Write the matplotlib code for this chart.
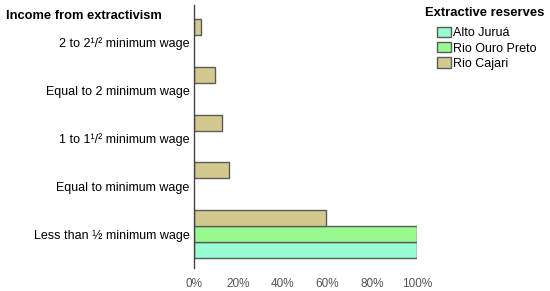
import matplotlib
matplotlib.use("Agg")
import matplotlib.pyplot as plt
from matplotlib.patches import Patch
import numpy as np

plt.rcParams['font.family'] = ['Liberation Sans', 'DejaVu Sans']

categories = ["Less than ½ minimum wage", "Equal to minimum wage",
              "1 to 1¹/² minimum wage", "Equal to 2 minimum wage",
              "2 to 2¹/² minimum wage"]
series_names = ["Alto Juruá", "Rio Ouro Preto", "Rio Cajari"]
alto_jurua = [100, 0, 0, 0, 0]
rio_ouro_preto = [100, 0, 0, 0, 0]
rio_cajari = [59.4, 15.7, 12.6, 9.6, 3.2]
colors = ["#98fdd0", "#98f98e", "#d3c98f"]
xticks = [0, 20, 40, 60, 80, 100]

fig = plt.figure(figsize=(5.5, 2.91), dpi=100)
ax = fig.add_axes([193.5/550, 23/291, (417-193.5)/550, 263/291])

base = np.arange(len(categories)) * 3
for k, (vals, off) in enumerate(zip([alto_jurua, rio_ouro_preto, rio_cajari], [-1, 0, 1])):
    v = np.array(vals, dtype=float)
    mask = v > 0
    ax.barh(base[mask] + off, v[mask], height=1.0, color=colors[k],
            edgecolor="#5a5a5a", linewidth=1.0)

ax.set_xlim(0, 100)
ax.set_ylim(-2.1, 14.35)
ax.set_yticks(base)
ax.set_yticklabels(categories, fontsize=9, color="black")
ax.set_xticks(xticks)
ax.set_xticklabels([f"{t}%" for t in xticks], fontsize=8.5, color="#555555")
ax.tick_params(axis="x", length=0, pad=7)
ax.tick_params(axis="y", length=0, pad=3)
for s in ["top", "right", "bottom"]:
    ax.spines[s].set_visible(False)
ax.spines["left"].set_color("#444444")
ax.spines["left"].set_linewidth(1.0)

fig.text(6/550, 1 - 16/291, "Income from extractivism", fontsize=9.3,
         fontweight="bold", va="center", ha="left")
fig.text(425/550, 1 - 13/291, "Extractive reserves", fontsize=9.4,
         fontweight="bold", va="center", ha="left")

handles = [Patch(facecolor=c, edgecolor="#5a5a5a", label=n) for c, n in zip(colors, series_names)]
leg = fig.legend(handles=handles, loc="upper left", bbox_to_anchor=(428/550, 1 - 18/291),
                 frameon=False, fontsize=9,
                 handlelength=1.1, handleheight=0.9, handletextpad=0.2,
                 labelspacing=0.22, borderpad=0.2)

fig.savefig("out.png", dpi=100)
